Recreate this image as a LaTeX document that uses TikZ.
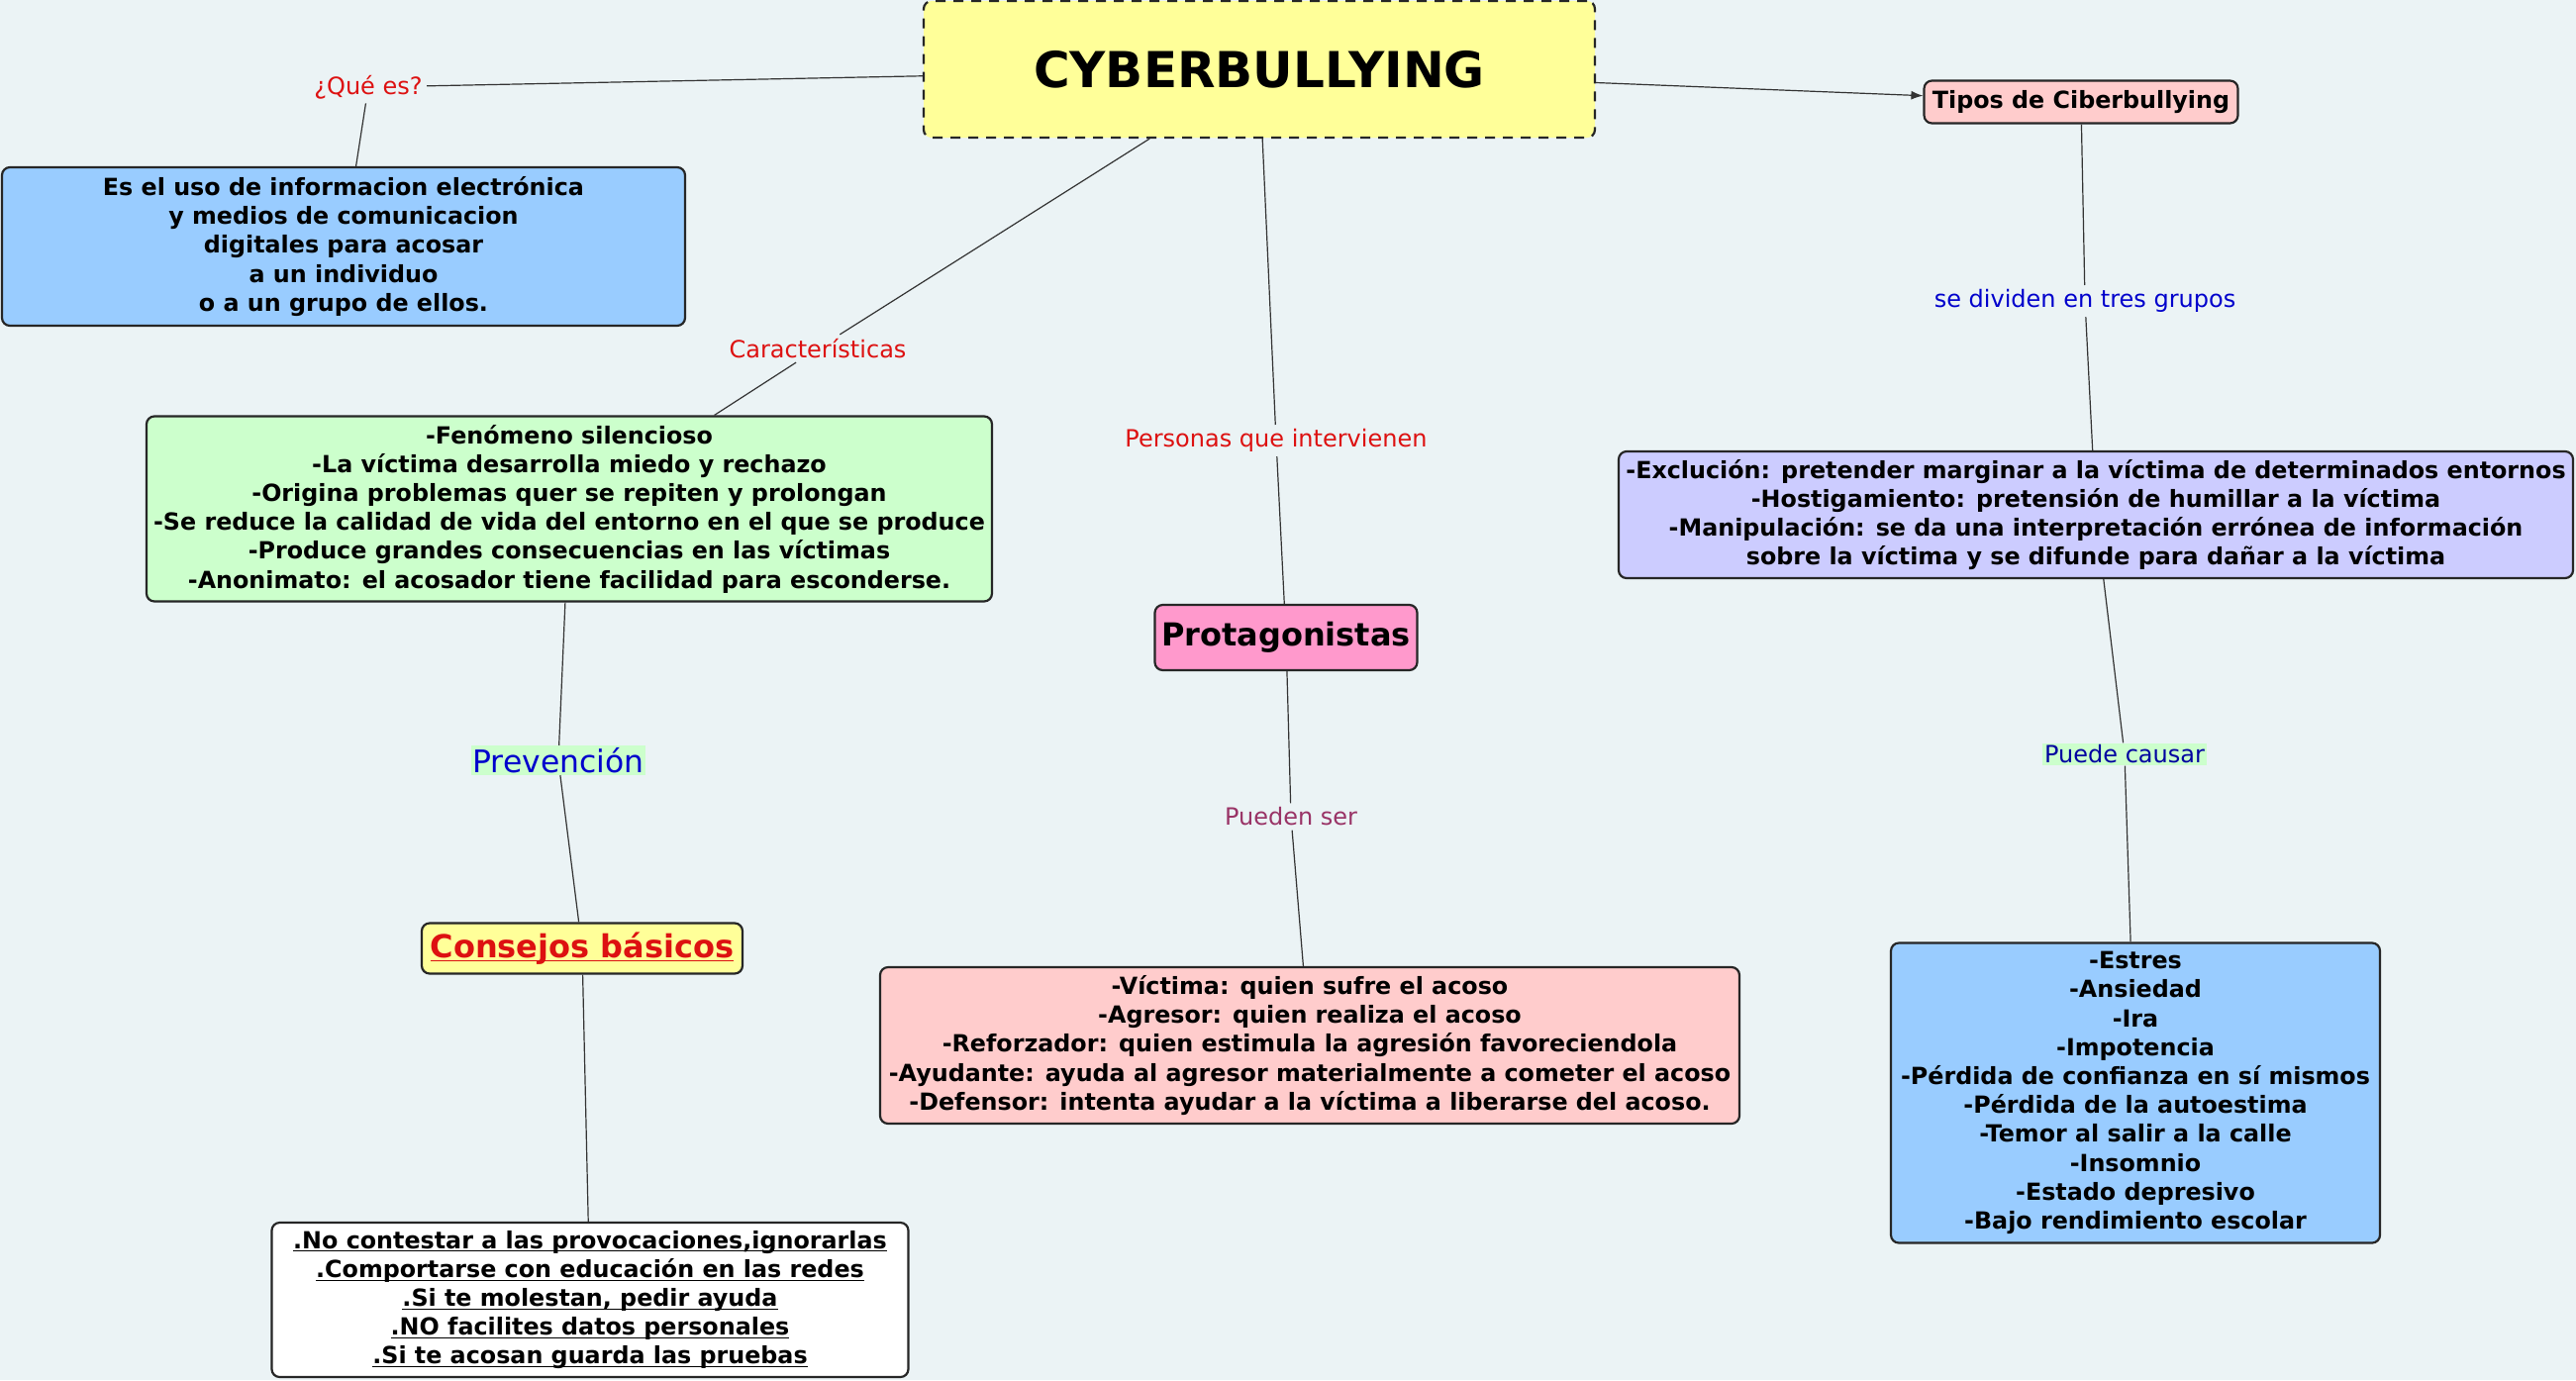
\documentclass[tikz,border=0pt]{standalone}
\usepackage{fontspec}
\setmainfont{DejaVu Sans}
\usetikzlibrary{arrows.meta}

\definecolor{bg}{RGB}{235,243,245}
\definecolor{amarillo}{RGB}{255,255,153}
\definecolor{celeste}{RGB}{153,204,255}
\definecolor{verde}{RGB}{204,255,204}
\definecolor{rosa}{RGB}{255,204,204}
\definecolor{lila}{RGB}{204,204,255}
\definecolor{fucsia}{RGB}{255,153,204}
\definecolor{rojo}{RGB}{221,17,17}
\definecolor{azul}{RGB}{0,0,204}
\definecolor{azuloscuro}{RGB}{0,0,160}
\definecolor{morado}{RGB}{153,51,102}

\newcommand{\undl}[1]{\underline{\smash{#1}}\vphantom{#1}}

\begin{document}
\begin{tikzpicture}[x=0.5pt, y=-0.5pt,
	b/.style = {rectangle, rounded corners=4pt, draw=black!85, line width=1.1pt, align=center, inner sep=0pt,
		font=\fontsize{11.9}{14.6}\selectfont\bfseries},
	sz/.style 2 args = {minimum width={#1*0.5pt}, minimum height={#2*0.5pt}},
	l/.style = {inner sep=2pt, font=\fontsize{12}{14}\selectfont},
	r/.style = {draw=black!80, line width=0.6pt}
	]
	
	\useasboundingbox (0,0) rectangle (2602,1394);
	\fill[bg] (0,0) rectangle (2602,1394);
	
	% ===== ===== ===== ===== =====
	
	% Nodes
	\node[b, sz={678}{138}, fill=amarillo, dash pattern=on 5pt off 4pt, font=\fontsize{25}{30}\selectfont\bfseries]
		(title)	at	(1272, 70)	{CYBERBULLYING};
	
	\node[l, text=rojo]	(que)	at	(372, 88)	{¿Qué es?};
	\node[b, sz={690}{160}, fill=celeste]	(def)	at	(347, 249)
		{Es el uso de informacion electrónica\\y medios de comunicacion\\digitales para acosar\\a un individuo\\o a un grupo de ellos.};
	
	\node[b, sz={317}{43}, fill=rosa]	(tipos)	at	(2102, 103)	{Tipos de Ciberbullying};
	\node[l, text=azul]	(divid)	at	(2106, 304)	{se dividen en tres grupos};
	\node[b, sz={964}{128}, fill=lila]	(grupos)	at	(2117, 520)
		{-Exclución: pretender marginar a la víctima de determinados entornos\\-Hostigamiento: pretensión de humillar a la víctima\\-Manipulación: se da una interpretación errónea de información\\sobre la víctima y se difunde para dañar a la víctima};
	\node[l, text=azuloscuro, fill=verde, inner sep=1pt]	(causar)	at	(2146, 762)	{Puede causar};
	\node[b, sz={494}{303}, fill=celeste]	(efectos)	at	(2157, 1104)
		{-Estres\\-Ansiedad\\-Ira\\-Impotencia\\-Pérdida de confianza en sí mismos\\-Pérdida de la autoestima\\-Temor al salir a la calle\\-Insomnio\\-Estado depresivo\\-Bajo rendimiento escolar};
	
	
	
	% ===== ===== ===== ===== =====
	
	% Nodes
	\node[l, text=rojo]	(carac)	at	(826, 352)	{Características};
	\node[b, sz={854}{187}, fill=verde]	(fen)	at	(575, 514)
		{-Fenómeno silencioso\\-La víctima desarrolla miedo y rechazo\\-Origina problemas quer se repiten y prolongan\\-Se reduce la calidad de vida del entorno en el que se produce\\-Produce grandes consecuencias en las víctimas\\-Anonimato: el acosador tiene facilidad para esconderse.};
	\node[l, text=azul, fill=verde, inner sep=1pt, font=\fontsize{15.7}{18}\selectfont]	(prev)	at	(564, 768)	{Prevención};
	\node[b, sz={324}{51}, fill=amarillo, text=rojo, font=\fontsize{16}{19}\selectfont\bfseries]	(consejos)	at	(588, 958)
		{\undl{Consejos básicos}};
	\node[b, sz={643}{156}, fill=white]	(lista)	at	(596, 1313)
		{\undl{.No contestar a las provocaciones,ignorarlas}\\\undl{.Comportarse con educación en las redes}\\\undl{.Si te molestan, pedir ayuda}\\\undl{.NO facilites datos personales}\\\undl{.Si te acosan guarda las pruebas}};
	
	\node[l, text=rojo]	(pers)	at	(1289, 445)	{Personas que intervienen};
	\node[b, sz={265}{66}, fill=fucsia, font=\fontsize{16}{19}\selectfont\bfseries]	(prot)	at	(1299, 644)	{Protagonistas};
	\node[l, text=morado]	(pueden)	at	(1304, 825)	{Pueden ser};
	\node[b, sz={868}{158}, fill=rosa]	(roles)	at	(1323, 1056)
		{-Víctima: quien sufre el acoso\\-Agresor: quien realiza el acoso\\-Reforzador: quien estimula la agresión favoreciendola\\-Ayudante: ayuda al agresor materialmente a cometer el acoso\\-Defensor: intenta ayudar a la víctima a liberarse del acoso.};
	
	
	
	% Lines
	\draw[r]	(title)	--	(que);
	\draw[r]	(que)	--	(def);
	\draw[r, -{Latex[length=6pt, width=4.5pt]}]	(title)	--	(tipos);
	\draw[r]	(tipos)	--	(divid);
	\draw[r]	(divid)	--	(grupos);
	\draw[r]	(grupos)	--	(causar);
	\draw[r]	(causar)	--	(efectos);
	
	\draw[r]	(title)	--	(carac);
	\draw[r]	(carac)	--	(fen);
	\draw[r]	(fen)	--	(prev);
	\draw[r]	(prev)	--	(consejos);
	\draw[r]	(consejos)	--	(lista);
	
	\draw[r]	(title)	--	(pers);
	\draw[r]	(pers)	--	(prot);
	\draw[r]	(prot)	--	(pueden);
	\draw[r]	(pueden)	--	(roles);
	
\end{tikzpicture}
\end{document}
